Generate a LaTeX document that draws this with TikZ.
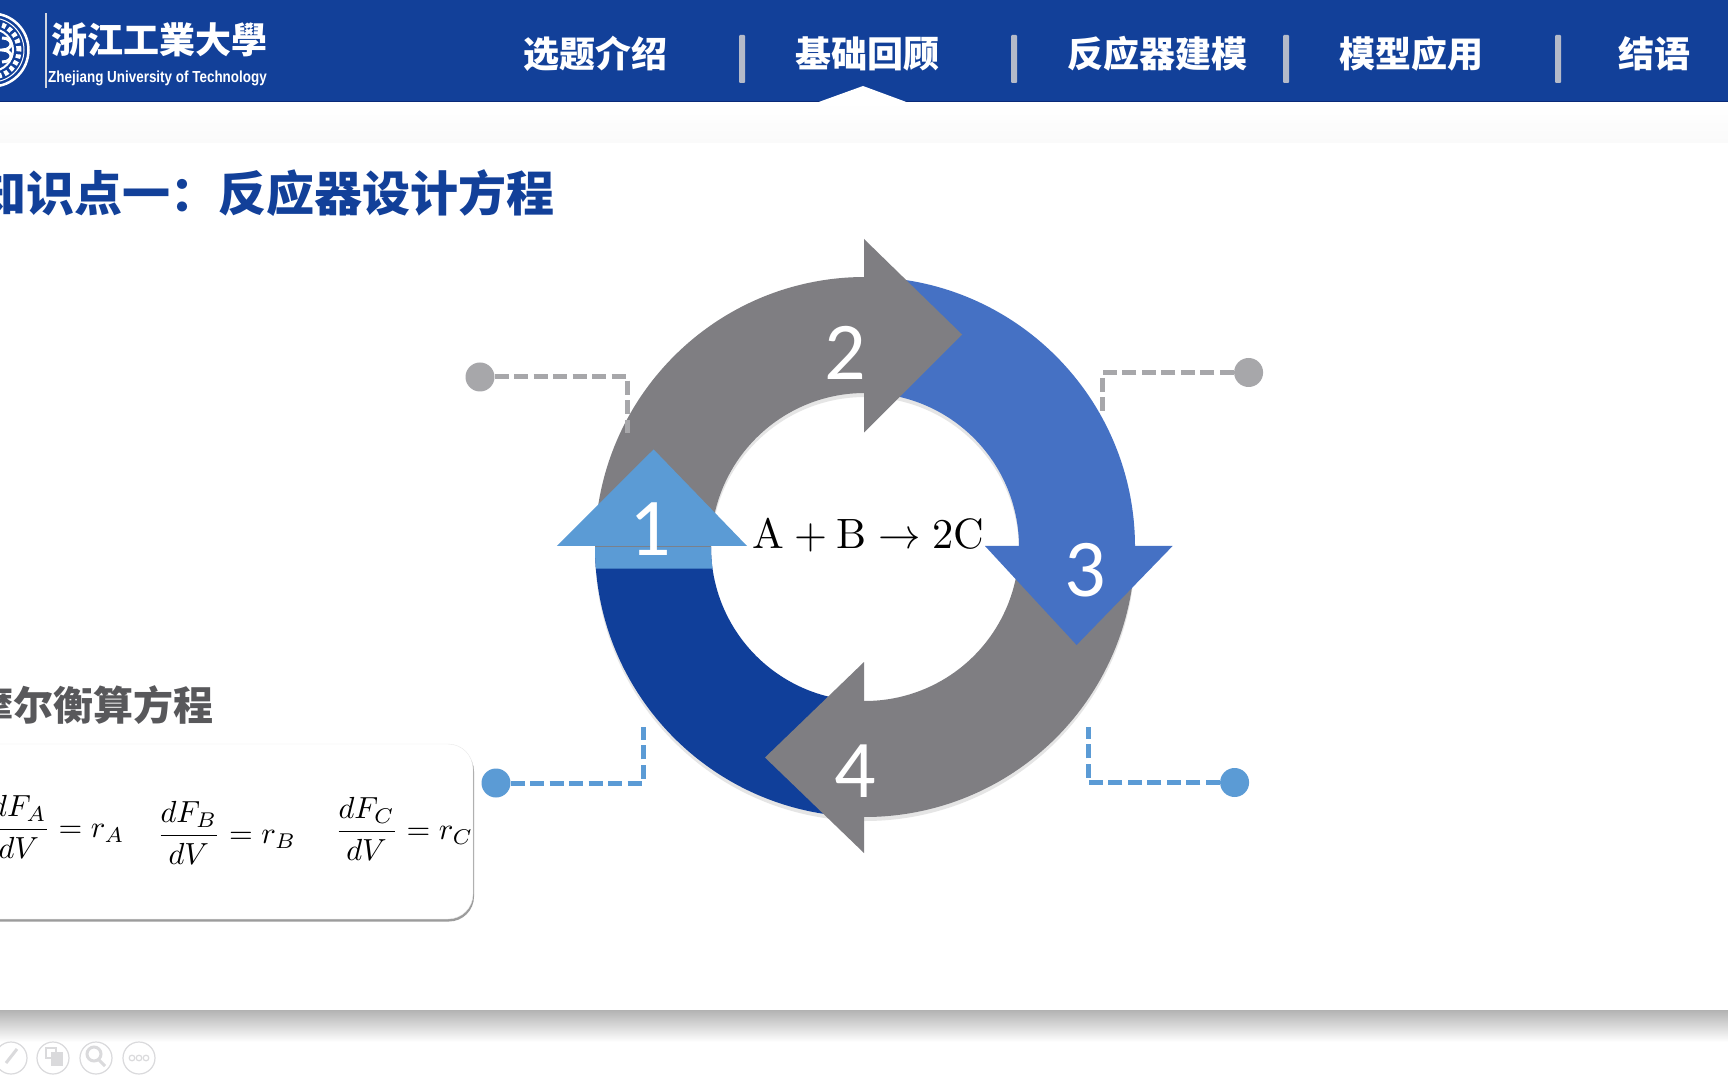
\documentclass[tikz,border=0pt]{standalone}
\usepackage{fontspec}
\newfontfamily\cjk{Noto Sans CJK SC}
\newfontfamily\logolatin{Liberation Sans}
\newfontfamily\numfont{Carlito}
\usetikzlibrary{positioning, shadows}
\definecolor{headblue}{HTML}{124099}
\definecolor{headedge}{HTML}{0A2A78}
\definecolor{sepgrey}{HTML}{B4BAC9}
\definecolor{ringgrey}{HTML}{7F7E82}
\definecolor{ringblue}{HTML}{4571C4}
\definecolor{ringdark}{HTML}{103F9A}
\definecolor{ringlight}{HTML}{5B9BD5}
\definecolor{leadgrey}{HTML}{A7A7AA}
\definecolor{subgrey}{HTML}{58585B}
\definecolor{icongrey}{HTML}{DADADC}
\tikzset{
	navitem/.style={
		inner sep=0mm,
		text=white,
		font={\cjk\bfseries\fontsize{36}{40}\selectfont},
	},
	sepbar/.style={
		fill=sepgrey,
		rounded corners=1pt,
	},
	titletext/.style={
		anchor=west,
		inner sep=0mm,
		text=headblue,
		font={\cjk\bfseries\fontsize{48}{52}\selectfont},
	},
	subtext/.style={
		anchor=west,
		inner sep=0mm,
		text=subgrey,
		font={\cjk\bfseries\fontsize{40}{44}\selectfont},
	},
	eqtext/.style={
		inner sep=0mm,
		scale=3.05,
		transform shape,
	},
	ringnum/.style={
		inner sep=0mm,
		text=white,
		font={\numfont\fontsize{82}{86}\selectfont},
	},
	leadgreyline/.style={
		draw=leadgrey,
		line width=5pt,
		dash pattern=on 14pt off 5.5pt,
	},
	leadblueline/.style={
		draw=ringlight,
		line width=5pt,
		dash pattern=on 14pt off 5.5pt,
	},
	leaddot/.style={
		circle,
		inner sep=0mm,
		minimum size=29pt,
	},
	iconring/.style={
		circle,
		draw=icongrey,
		line width=1.2pt,
		inner sep=0mm,
		minimum size=32pt,
	},
	iconmark/.style={
		draw=icongrey,
		line width=2pt,
	},
}

\begin{document}
\begin{tikzpicture}[x=1pt,y=1pt]
\useasboundingbox (0,0) rectangle (1728,1080);
\fill[white] (0,0) rectangle (1728,1080);

% slide edges
\shade[top color=white, bottom color=black!2] (0,978) rectangle (1728,937);
\fill[white] (0,70) rectangle (1728,937);
\shade[top color=black!30, bottom color=white] (0,70) rectangle (1728,38);

% header band
\fill[headblue] (0,978.3) rectangle (1728,1080);
\fill[headedge] (0,978) rectangle (1728,979);
\fill[white] (816,977) -- (863,994) -- (909,977) -- cycle;

\foreach \name/\xx/\lbl in {a/595/选题介绍, b/867/基础回顾, c/1157/反应器建模, d/1411/模型应用, e/1654/结语} {
	\node(nav\name)[navitem] at (\xx,1026) {\lbl};
};
\foreach \xx in {742,1014,1286,1558} {
	\fill[sepbar] (\xx-3,997) rectangle (\xx+3,1045);
};

% logo
\node(sealdisc)[circle, draw=white, line width=2.5pt, minimum size=73pt, inner sep=0mm] at (-8,1030) {};
\draw[white, line width=1pt] (sealdisc.center) circle[radius=32];
\draw[white, line width=5pt, dash pattern=on 4pt off 3pt] (sealdisc.center) circle[radius=27];
\draw[white, line width=2pt] (sealdisc.center) circle[radius=21];
\draw[white, line width=3pt] (2,1042) .. controls (14,1042) and (14,1030) .. (2,1030) .. controls (14,1030) and (14,1018) .. (2,1018);
\fill[sepgrey!60!white] (44.5,992) rectangle (46.5,1067);
\node(logozh)[inner sep=0mm, anchor=west, text=white, font={\cjk\bfseries\fontsize{36}{40}\selectfont}] at (51,1040) {浙江工業大學};
\node(logoen)[inner sep=0mm, anchor=west, text=white, font={\logolatin\bfseries\fontsize{16}{18}\selectfont}] at (48,1002) {\scalebox{0.84}[1]{Zhejiang University of Technology}};

% titles
\node(title)[titletext] at (-22,887) {知识点一：反应器设计方程};
\node(subtitle)[subtext] at (-27,375) {摩尔衡算方程};

% equation box
\node(eqbox)[fill=white, draw=black!9, rounded corners=25pt, minimum width=503pt, minimum height=175pt, inner sep=0mm,
	drop shadow={shadow xshift=1pt, shadow yshift=-2.5pt, fill=black!55, opacity=0.7}] at (221.5,248.5) {};
\node(eqa)[eqtext] at (56,253) {$\displaystyle\frac{dF_A}{dV}=r_A$};
\node(eqb)[eqtext] at (226.5,247) {$\displaystyle\frac{dF_B}{dV}=r_B$};
\node(eqc)[eqtext] at (404,251) {$\displaystyle\frac{dF_C}{dV}=r_C$};

% ring, centre at (865,533)
\coordinate(ringc) at (865,533);
\def\ringout{270}
\def\ringin{154}
\fill[black!10, even odd rule] (865,529) circle[radius=\ringout] (865,529) circle[radius=\ringin];
\begin{scope}[shift={(ringc)}]
	\foreach \col/\aa/\bb in {ringdark/180/265, ringgrey/265/360, ringblue/90/0, ringgrey/180/90} {
		\fill[\col] (\aa:\ringout) arc[start angle=\aa, end angle=\bb, radius=\ringout]
			-- (\bb:\ringin) arc[start angle=\bb, end angle=\aa, radius=\ringin] -- cycle;
	};
	\fill[ringlight] (180:\ringout) arc[start angle=180, end angle=184.6, radius=\ringout]
		-- (188.1:\ringin) arc[start angle=188.1, end angle=180, radius=\ringin] -- cycle;
\end{scope}
\fill[ringlight] (653.6,630.6) -- (556.8,534) -- (747,534) -- cycle;
\fill[ringgrey] (864,841) -- (962,745.5) -- (864,647.5) -- cycle;
\fill[ringblue] (985,534) -- (1172.6,534) -- (1076.6,435) -- cycle;
\fill[ringgrey] (864,418) -- (864,227) -- (765,322.5) -- cycle;

\node(numa)[ringnum] at (650,551) {1};
\node(numb)[ringnum] at (845,727) {2};
\node(numc)[ringnum] at (1085.5,510) {3};
\node(numd)[ringnum] at (855,309) {4};

\node(react)[inner sep=0mm, scale=4.24, transform shape] at (868.5,545) {$\mathrm{A+B\rightarrow 2C}$};

% leaders
\node(dota)[leaddot, fill=leadgrey] at (480,703) {};
\node(dotb)[leaddot, fill=leadgrey] at (1248.6,707.5) {};
\node(dotc)[leaddot, fill=ringlight] at (496,297) {};
\node(dotd)[leaddot, fill=ringlight] at (1234.6,297.5) {};
\coordinate(benda) at (627.5,703);
\coordinate(enda) at (627.5,647.4);
\coordinate(bendb) at (1102.7,707.5);
\coordinate(endb) at (1102.7,668.5);
\coordinate(bendc) at (643,297);
\coordinate(endc) at (643,353);
\coordinate(bendd) at (1088,297.5);
\coordinate(endd) at (1088,353);
\draw[leadgreyline] (dota) -- (benda) -- (enda);
\draw[leadgreyline] (dotb) -- (bendb) -- (endb);
\draw[leadblueline] (dotc) -- (bendc) -- (endc);
\draw[leadblueline] (dotd) -- (bendd) -- (endd);

% tool icons
\node(icona)[iconring] at (11,22) {};
\node(iconb)[iconring] at (53,22) {};
\node(iconc)[iconring] at (96,22) {};
\node(icond)[iconring] at (139,22) {};
\draw[iconmark, line width=3pt] (17,31) -- (6,17);
\draw[iconmark] (46,22) rectangle (56,32);
\draw[iconmark, fill=icongrey] (52,15) rectangle (62,27);
\draw[iconmark, line width=3pt] (94,26) circle[radius=7];
\draw[iconmark, line width=3pt] (99,20) -- (105,14);
\foreach \xx in {132,139,146} {
	\draw[iconmark, line width=1.2pt] (\xx,22) circle[radius=2.8];
};
\end{tikzpicture}
\end{document}
